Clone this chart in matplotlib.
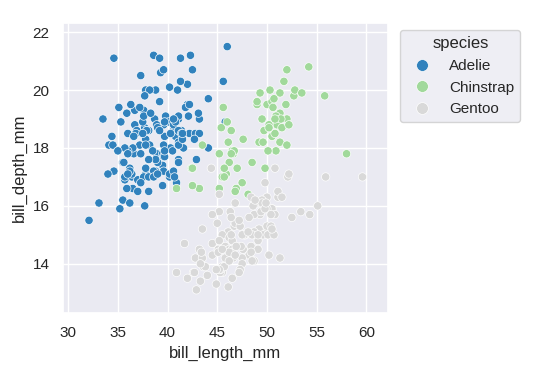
import matplotlib
matplotlib.use('Agg')
import matplotlib.pyplot as plt
import seaborn as sns
import numpy as np
import pandas as pd

# bill_length_mm, bill_depth_mm per species
adelie_length = [
    39.1, 39.5, 40.3, 36.7, 39.3, 38.9, 39.2, 34.1, 42.0, 37.8, 37.8, 41.1, 38.6, 34.6, 36.6, 38.7, 42.5, 34.4, 46.0,
    37.8, 37.7, 35.9, 38.2, 38.8, 35.3, 40.6, 40.5, 37.9, 40.5,
    39.5, 37.2, 39.5, 40.9, 36.4, 39.2, 38.8, 42.2, 37.6, 39.8, 36.5, 40.8, 36.0, 44.1, 37.0, 39.6, 41.1, 37.5, 36.0, 42.3,
    39.6, 40.1, 35.0, 42.0, 34.5, 41.4, 39.0, 40.6, 36.5, 37.6, 35.7, 41.3, 37.6, 41.1, 36.4, 41.6, 35.5, 41.1,
    35.9, 41.8, 33.5, 39.7, 39.6, 45.8, 35.5, 42.8, 40.9, 37.2, 36.2, 42.1, 34.6, 42.9, 36.7, 35.1,
    37.3, 41.3, 36.3, 36.9, 38.3, 38.9, 35.7, 41.1, 34.0, 39.6, 36.2, 40.8, 38.1, 40.3, 33.1, 43.2,
    35.0, 41.0, 37.7, 37.8, 37.9, 39.7, 38.6, 38.2, 38.1, 43.2, 38.1, 45.6, 39.7, 42.2, 39.6, 42.7,
    38.6, 37.3, 35.7, 41.1, 36.2, 37.7, 40.2, 41.4, 35.2, 40.6, 38.8, 41.5, 39.0, 44.1, 38.5, 43.1,
    36.8, 37.5, 38.1, 41.1, 35.6, 40.2, 37.0, 39.7, 40.2, 40.6, 32.1, 40.7, 37.3, 39.0, 39.2, 36.6, 36.0, 37.8, 36.0, 41.5,
]
adelie_depth = [
    18.7, 17.4, 18.0, 19.3, 20.6, 17.8, 19.6, 18.1, 20.2, 17.1, 17.3, 17.6, 21.2, 21.1, 17.8, 19.0, 20.7, 18.4, 21.5,
    18.3, 18.7, 19.2, 18.1, 17.2, 18.9, 18.6, 17.9, 18.6, 18.9,
    16.7, 18.1, 17.8, 18.9, 17.0, 21.1, 20.0, 18.5, 19.3, 19.1, 18.0, 18.4, 18.5, 19.7, 16.9, 18.8, 19.0, 18.9, 17.9, 21.2,
    17.7, 18.9, 17.9, 19.5, 18.1, 18.6, 17.5, 18.8, 16.6, 19.1, 16.9, 21.1, 17.0, 18.2, 17.1, 18.0, 16.2, 19.1,
    16.6, 19.4, 19.0, 18.4, 17.2, 18.9, 17.5, 18.5, 16.8, 19.4, 16.1, 19.1, 17.2, 17.6, 18.8, 19.4,
    17.8, 20.3, 19.5, 18.6, 19.2, 18.8, 18.0, 18.1, 17.1, 18.1, 17.3, 18.9, 18.6, 18.5, 16.1, 18.5,
    17.9, 20.0, 16.0, 20.0, 18.6, 18.9, 17.2, 20.0, 17.0, 19.0, 16.5, 20.3, 17.7, 19.5, 20.7, 18.3,
    17.0, 20.5, 17.0, 18.6, 17.2, 19.8, 17.0, 18.5, 15.9, 19.0, 17.6, 18.3, 17.1, 18.0, 17.9, 19.2,
    18.5, 18.5, 17.6, 17.5, 17.5, 20.1, 16.5, 17.9, 17.1, 17.2, 15.5, 17.0, 16.8, 18.7, 18.6, 18.4, 17.8, 18.1, 17.1, 18.5,
]

chinstrap_length = [
    46.5, 50.0, 51.3, 45.4, 52.7, 45.2, 46.1, 51.3, 46.0, 51.3, 46.6, 51.7, 47.0, 52.0, 45.9, 50.5, 50.3,
    58.0, 46.4, 49.2, 42.4, 48.5, 43.2, 50.6, 46.7, 52.0, 50.5, 49.5, 46.4, 52.8, 40.9, 54.2, 42.5, 51.0,
    49.7, 47.5, 47.6, 52.0, 46.9, 53.5, 49.0, 46.2, 50.9, 45.5, 50.9, 50.8, 50.1, 49.0, 51.5, 49.8, 48.1,
    51.4, 45.7, 50.7, 42.5, 52.2, 45.2, 49.3, 50.2, 45.6, 51.9, 46.8, 45.7, 55.8, 43.5, 49.6, 50.8, 50.2,
]
chinstrap_depth = [
    17.9, 19.5, 19.2, 18.7, 19.8, 17.8, 18.2, 18.2, 18.9, 19.9, 17.8, 20.3, 17.3, 18.1, 17.1, 19.6, 20.0,
    17.8, 18.6, 18.2, 17.3, 17.5, 16.6, 19.4, 17.9, 19.0, 18.4, 19.0, 17.8, 20.0, 16.6, 20.8, 16.7, 18.8,
    18.6, 16.8, 18.3, 20.7, 16.6, 19.9, 19.5, 17.5, 19.1, 17.0, 17.9, 18.5, 17.9, 19.6, 18.7, 17.3, 16.4,
    19.0, 17.3, 19.7, 17.3, 18.8, 16.6, 19.9, 18.8, 19.4, 19.5, 16.5, 17.0, 19.8, 18.1, 18.2, 19.0, 18.7,
]

gentoo_length = [
    46.1, 50.0, 48.7, 50.0, 47.6, 46.5, 45.4, 46.7, 43.3, 46.8, 40.9, 49.0, 45.5, 48.4, 45.8, 49.3, 42.0, 49.2,
    46.2, 48.7, 50.2, 45.1, 46.5, 46.3, 42.9, 46.1, 44.5, 47.8, 48.2, 50.0, 47.3, 42.8, 45.1, 59.6, 49.1, 48.4,
    42.6, 44.4, 44.0, 48.7, 42.7, 49.6, 45.3, 49.6, 50.5, 43.6, 45.5, 50.5, 44.9, 45.2, 46.6, 48.5, 45.1, 50.1,
    46.5, 45.0, 43.8, 45.5, 43.2, 50.4, 45.3, 46.2, 45.7, 54.3, 45.8, 49.8, 46.2, 49.5, 43.5, 50.7, 47.7, 46.4,
    48.2, 46.5, 46.4, 48.6, 47.5, 51.1, 45.2, 45.2, 49.1, 52.5, 47.4, 50.0, 44.9, 50.8, 43.4, 51.3, 47.5, 52.1,
    47.5, 52.2, 45.5, 49.5, 44.5, 50.8, 49.4, 46.9, 48.4, 51.1, 48.5, 55.9, 47.2, 49.1, 47.3, 46.8, 41.7, 53.4,
    43.3, 48.1, 50.5, 49.8, 43.5, 51.5, 46.2, 55.1, 44.5, 48.8, 47.2, 46.8, 50.4, 45.2, 49.9,
]
gentoo_depth = [
    13.2, 16.3, 14.1, 15.2, 14.5, 13.5, 14.6, 15.3, 13.4, 15.4, 13.7, 16.1, 13.7, 14.6, 14.6, 15.7, 13.5, 15.2,
    14.5, 15.1, 14.3, 14.5, 14.5, 15.8, 13.1, 15.1, 14.3, 15.0, 14.3, 15.3, 15.3, 14.2, 14.5, 17.0, 14.8, 16.3,
    13.7, 17.3, 13.6, 15.7, 13.7, 16.0, 13.7, 15.0, 15.9, 13.9, 13.9, 15.9, 13.3, 15.8, 14.2, 14.1, 14.4, 15.0,
    14.4, 15.4, 13.9, 15.0, 14.5, 15.3, 13.8, 14.9, 13.9, 15.7, 14.2, 16.8, 14.4, 16.2, 14.2, 15.0, 15.0, 15.6,
    15.6, 14.8, 15.0, 16.0, 14.2, 16.3, 13.8, 16.4, 14.5, 15.6, 14.6, 15.9, 13.8, 17.3, 14.4, 14.2, 14.0, 17.0,
    15.0, 17.1, 14.5, 16.1, 14.7, 15.7, 15.8, 14.6, 14.4, 16.5, 15.0, 17.0, 15.5, 15.0, 13.8, 16.1, 14.7, 15.8,
    14.0, 15.1, 15.2, 15.9, 15.2, 16.3, 14.1, 16.0, 15.7, 16.2, 13.7, 14.3, 15.7, 14.8, 16.1,
]

species_names = ['Adelie', 'Chinstrap', 'Gentoo']
species_colors = ['#3182bd', '#a1d99b', '#d9d9d9']

df = pd.DataFrame({
    'bill_length_mm': adelie_length + chinstrap_length + gentoo_length,
    'bill_depth_mm': adelie_depth + chinstrap_depth + gentoo_depth,
    'species': (['Adelie'] * len(adelie_length) + ['Chinstrap'] * len(chinstrap_length)
                + ['Gentoo'] * len(gentoo_length)),
})

sns.set_theme()
plt.rcParams['font.family'] = ['Liberation Sans', 'DejaVu Sans']

fig = plt.figure(figsize=(5.33, 3.70), dpi=100)
ax = fig.add_axes([0.1176, 0.154, 0.610, 0.785])

sns.scatterplot(data=df, x='bill_length_mm', y='bill_depth_mm', hue='species',
                hue_order=species_names, palette=species_colors, ax=ax)

ax.set_xlim(29.45, 62.15)
ax.set_ylim(12.3, 22.33)

sns.move_legend(ax, 'upper left', bbox_to_anchor=(1.015, 1))
# groessere Marker in der Legende
for h in ax.get_legend().legend_handles:
    h.set_markersize(8.5)

fig.savefig('out.png', dpi=100)
